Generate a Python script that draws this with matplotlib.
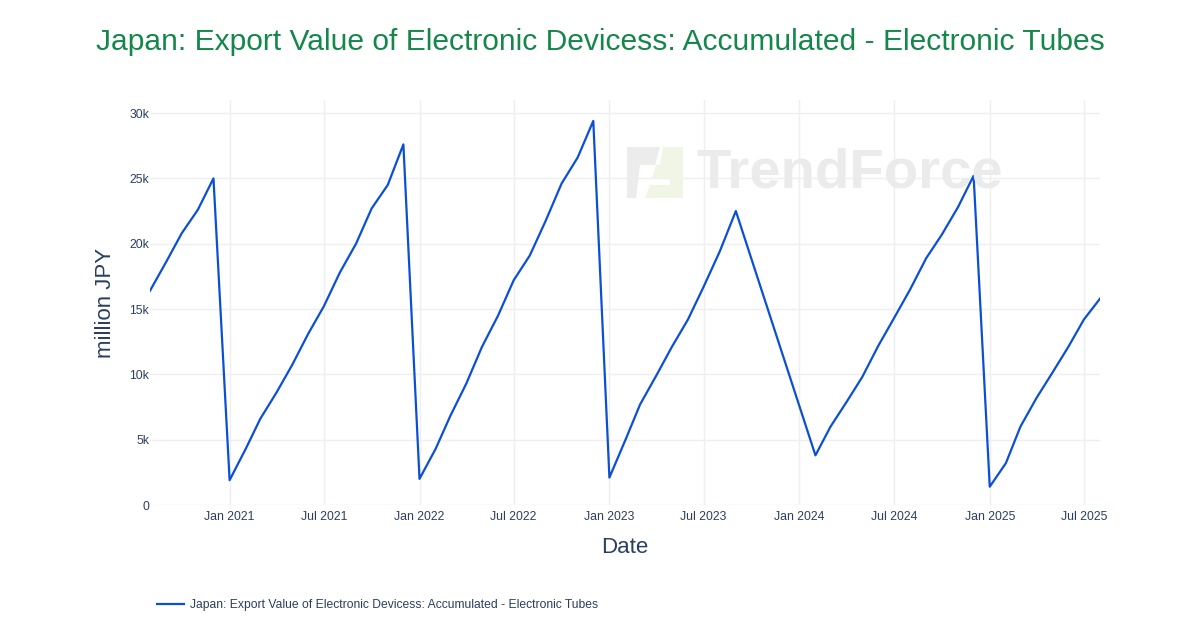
import matplotlib
matplotlib.use("Agg")
from matplotlib import pyplot as plt
from matplotlib.patches import Polygon
import pandas as pd

# monthly accumulated export values (million JPY); Oct 2023 - Jan 2024 missing
dates = (list(pd.date_range("2020-08-01", "2023-09-01", freq="MS"))
         + list(pd.date_range("2024-02-01", "2025-08-01", freq="MS")))
values = [
    16.4, 18.6, 20.8, 22.6, 25.0,                       # Aug-Dec 2020
    1.9, 4.3, 6.6, 8.6, 10.7, 13.1, 15.2, 17.8, 20.0, 22.7, 24.5, 27.6,   # 2021
    2.0, 4.3, 6.8, 9.3, 12.1, 14.5, 17.2, 19.1, 21.8, 24.6, 26.6, 29.4,   # 2022
    2.1, 5.0, 7.7, 9.9, 12.1, 14.2, 16.7, 19.4, 22.5,   # Jan-Sep 2023
    3.8, 6.0, 7.9, 9.8, 12.2, 14.3, 16.5, 18.9, 20.7, 22.8, 25.2,  # Feb-Dec 2024
    1.4, 3.2, 6.0, 8.2, 10.1, 12.1, 14.2, 15.8,          # Jan-Aug 2025
]
values = [v * 1000 for v in values]

series_name = "Japan: Export Value of Electronic Devicess: Accumulated - Electronic Tubes"
title = "Japan: Export Value of Electronic Devicess: Accumulated - Electronic Tubes"

plt.rcParams['font.family'] = ['Liberation Sans', 'DejaVu Sans']
text_col = "#2a3f5f"

fig = plt.figure(figsize=(12, 6.3), dpi=100)
ax = fig.add_axes([0.125, 1 - 505 / 630, 0.9167 - 0.125, (505 - 100) / 630])

# watermark (behind the data)
def px(x, y):
    return (x / 1200, 1 - y / 630)

fig.patches.append(Polygon([px(627, 147), px(660, 147), px(655, 165), px(640, 165),
                            px(636, 198), px(627, 198)], closed=True,
                           transform=fig.transFigure, facecolor="#ececec", edgecolor="none", zorder=0))
fig.patches.append(Polygon([px(663, 147), px(683, 147), px(683, 198), px(645, 198),
                            px(650, 185), px(670, 185), px(670, 178), px(652, 178),
                            px(656, 165), px(660, 165)], closed=True,
                           transform=fig.transFigure, facecolor="#f1f5e6", edgecolor="none", zorder=0))
fig.text(850 / 1200, 1 - 173 / 630, "TrendForce", fontsize=40.5, fontweight="bold",
         color="#ebebeb", ha="center", va="center", zorder=0)
ax.set_facecolor("none")

ax.plot(dates, values, color="#0b50d4", lw=1.6, label=series_name)

ax.set_xlim(pd.Timestamp("2020-08-01"), pd.Timestamp("2025-08-01"))
ax.set_ylim(0, 31000)

xt = pd.date_range("2021-01-01", "2025-07-01", freq="6MS")
ax.set_xticks(xt)
ax.set_xticklabels([d.strftime("%b %Y") for d in xt])
yt = [0, 5000, 10000, 15000, 20000, 25000, 30000]
ax.set_yticks(yt)
ax.set_yticklabels(["0" if v == 0 else "%dk" % (v // 1000) for v in yt])

ax.tick_params(length=0, labelsize=8.8, colors=text_col)
ax.tick_params(axis="x", pad=4)
ax.tick_params(axis="y", pad=0.5)
ax.grid(True, color="#efefef", lw=1)
for s in ax.spines.values():
    s.set_visible(False)

ax.set_xlabel("Date", fontsize=16, color=text_col, labelpad=10.5)
ax.set_ylabel("million JPY", fontsize=16, color=text_col, labelpad=10)

fig.suptitle(title, x=0.5, y=0.955, fontsize=21.6, color="#14874a")

leg = fig.legend(loc="lower left", bbox_to_anchor=(0.122, 0.013), frameon=False,
                 fontsize=8.7, handlelength=2.2, handletextpad=0.5)
for t in leg.get_texts():
    t.set_color(text_col)

plt.savefig("out.png", dpi=100)
